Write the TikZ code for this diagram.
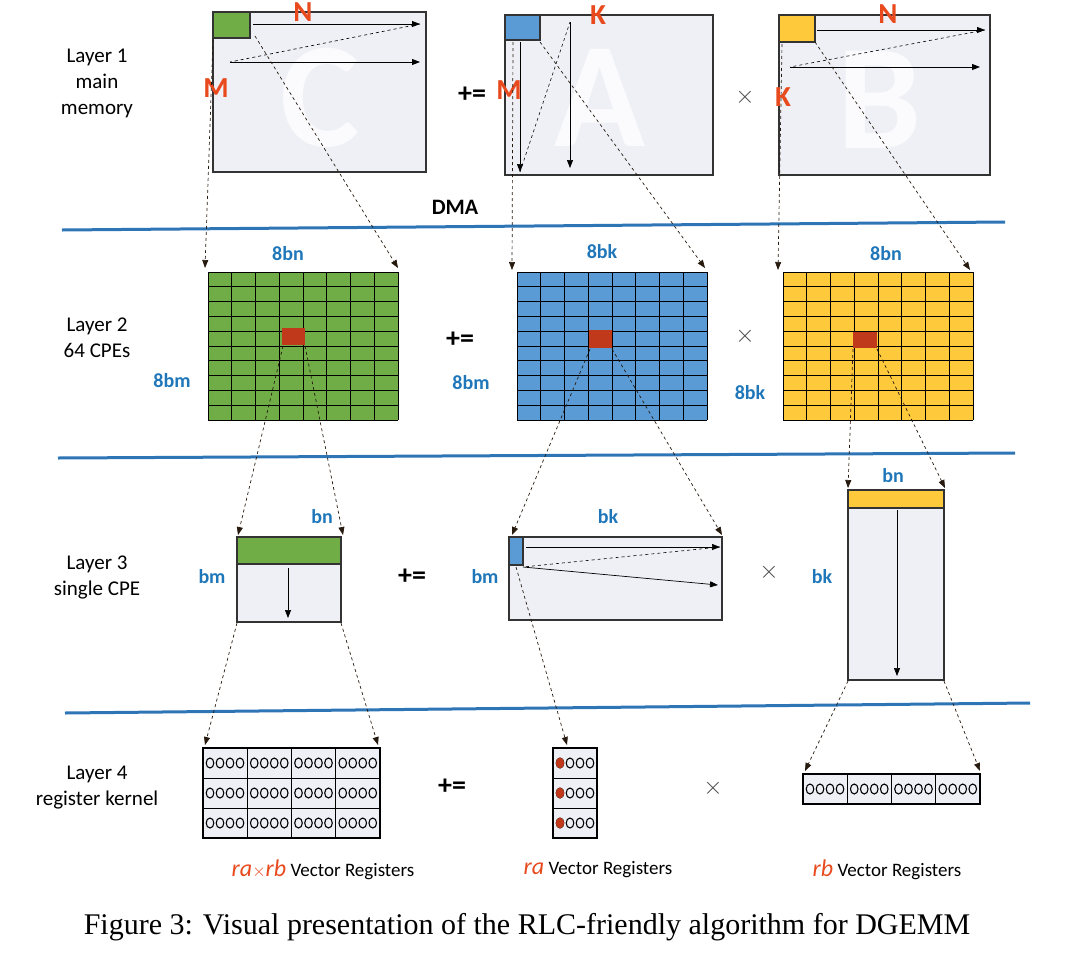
\documentclass[tikz,border=0pt]{standalone}
\usepackage{fontspec}
\setmainfont{Carlito}
\newfontfamily\capfont{Liberation Serif}
\usetikzlibrary{arrows.meta}
\definecolor{mred}{HTML}{E8491D}
\definecolor{mblue}{HTML}{2E75B6}
\definecolor{lblue}{HTML}{1F77BA}
\definecolor{gfill}{HTML}{70AD47}
\definecolor{bfill}{HTML}{5B9BD5}
\definecolor{yfill}{HTML}{FFC93C}
\definecolor{bg}{HTML}{EEF0F6}
\definecolor{rblk}{HTML}{C0391B}
\definecolor{bigc}{HTML}{FBFBFD}
\begin{document}
\begin{tikzpicture}[x=1pt,y=-1pt,
  mat/.style={draw=black!80,line width=1.2pt,fill=bg},
  lay/.style={align=center,font=\fontsize{21}{26}\selectfont},
  dim/.style={text=mred,font=\bfseries\fontsize{29}{29}\selectfont},
  sdim/.style={text=lblue,font=\bfseries\fontsize{20}{20}\selectfont},
  op/.style={font=\bfseries\fontsize{28}{28}\selectfont},
  tm/.style={text=black!70,font=\fontsize{24}{24}\selectfont},
  big/.style={text=bigc,font=\bfseries\fontsize{150}{150}\selectfont},
  arr/.style={-{Triangle[length=8pt,width=6pt]},line width=0.9pt},
  dsh/.style={dashed,line width=0.6pt},
  darr/.style={dashed,line width=0.7pt,draw=black!80!brown,-{Triangle[length=8pt,width=6pt]}},
  sep/.style={draw=mblue,line width=3pt}]
\useasboundingbox (0,0) rectangle (1071,956);
% layer labels
\node[lay] (l1) at (97,83) {Layer 1\\main\\memory};
\node[lay] (l2) at (97,338) {Layer 2\\64 CPEs};
\node[lay] (l3) at (97,577) {Layer 3\\single CPE};
\node[lay] (l4) at (97,788) {Layer 4\\register kernel};
% separators
\draw[sep] (62,230) -- (1005,222);
\draw[sep] (58,458) -- (1015,453);
\draw[sep] (65,713) -- (1030,703);
\node[font=\bfseries\fontsize{22}{22}\selectfont] (dma) at (455,207) {DMA};
% ---------- Layer 1
\draw[mat] (213,12) rectangle (426,172);
\draw[mat] (505,15) rectangle (713,175);
\draw[mat] (779,15) rectangle (990,175);
\node[big] (bc) at (320,98) {C};
\node[big] (ba) at (600,98) {A};
\node[big] (bb) at (880,100) {B};
\draw[fill=gfill,draw=black!80,line width=1.2pt] (213,12) rectangle (250,38);
\draw[fill=bfill,draw=black!80,line width=1.2pt] (505,15) rectangle (540,40);
\draw[fill=yfill,draw=black!80,line width=1.2pt] (779,15) rectangle (815,42);
\coordinate (c1a) at (253,24); \coordinate (c1b) at (420,24);
\coordinate (c1c) at (230,62); \coordinate (c1d) at (420,62);
\draw[arr] (c1a) -- (c1b); \draw[dsh] (c1b) -- (c1c); \draw[arr] (c1c) -- (c1d);
\coordinate (a1a) at (520,42); \coordinate (a1b) at (520,172);
\coordinate (a1c) at (570,22); \coordinate (a1d) at (570,168);
\draw[arr,line width=0.7pt] (a1a) -- (a1b); \draw[dsh] (a1b) -- (a1c); \draw[arr,line width=0.7pt] (a1c) -- (a1d);
\coordinate (b1a) at (817,30); \coordinate (b1b) at (985,30);
\coordinate (b1c) at (790,67); \coordinate (b1d) at (980,67);
\draw[arr] (b1a) -- (b1b); \draw[dsh] (b1b) -- (b1c); \draw[arr] (b1c) -- (b1d);
\node[dim] at (303,12) {N};
\node[dim] at (216,88) {M};
\node[dim] at (598,15) {K};
\node[dim] at (509,90) {M};
\node[dim] at (888,14) {N};
\node[dim] at (783,97) {K};
\node[op] (pe1) at (472,95) {+=};
\node[tm] (x1) at (745,97) {$\times$};
% ---------- Layer 2
\foreach \x/\c in {208/gfill,517/bfill,783/yfill}{
  \fill[\c] (\x,272) rectangle ++(190,148);
  \foreach \i in {0,...,8} \draw[line width=0.8pt] (\x+\i*190/8,272) -- ++(0,148);
  \foreach \j in {0,...,10} \draw[line width=0.8pt] (\x,272+\j*14.8) -- ++(190,0);
}
\fill[rblk] (282,328) rectangle (305,345);
\fill[rblk] (589,330) rectangle (612,348);
\fill[rblk] (853,332) rectangle (877,348);
\node[sdim] at (288,254) {8bn};
\node[sdim] at (602,252) {8bk};
\node[sdim] at (886,254) {8bn};
\node[sdim] at (172,381) {8bm};
\node[sdim] at (471,383) {8bm};
\node[sdim] at (750,393) {8bk};
\node[op] (pe2) at (460,340) {+=};
\node[tm] (x2) at (745,336) {$\times$};
% DMA arrows
\draw[darr] (213,40) -- (205,268);
\draw[darr] (255,36) -- (398,268);
\draw[darr] (513,42) -- (512,270);
\draw[darr] (540,42) -- (705,268);
\draw[darr] (782,44) -- (778,270);
\draw[darr] (815,42) -- (970,270);
% ---------- Layer 3
\draw[mat] (237,537) rectangle (341,622);
\draw[fill=gfill,draw=black!80,line width=1.2pt] (237,537) rectangle (341,564);
\draw[arr,line width=0.7pt] (288,568) -- (288,618);
\draw[mat] (509,537) rectangle (722,620);
\draw[fill=bfill,draw=black!80,line width=1.2pt] (509,537) rectangle (523,565);
\coordinate (a3a) at (526,547); \coordinate (a3b) at (720,547);
\coordinate (a3c) at (523,567); \coordinate (a3d) at (718,585);
\draw[arr,line width=0.7pt] (a3a) -- (a3b); \draw[dsh] (a3b) -- (a3c); \draw[arr,line width=0.7pt] (a3c) -- (a3d);
\draw[mat] (848,490) rectangle (944,680);
\draw[fill=yfill,draw=black!80,line width=1.2pt] (848,490) rectangle (944,508);
\draw[arr,line width=0.7pt] (897,510) -- (897,676);
\node[sdim] at (322,517) {bn};
\node[sdim] at (212,577) {bm};
\node[sdim] at (608,517) {bk};
\node[sdim] at (485,577) {bm};
\node[sdim] at (893,476) {bn};
\node[sdim] at (822,577) {bk};
\node[op] (pe3) at (412,577) {+=};
\node[tm] (x3) at (769,572) {$\times$};
\draw[darr] (283,346) -- (238,535);
\draw[darr] (305,346) -- (343,535);
\draw[darr] (590,349) -- (512,535);
\draw[darr] (612,349) -- (722,535);
\draw[darr] (853,349) -- (848,488);
\draw[darr] (877,349) -- (945,488);
% ---------- Layer 4
\newcommand{\regcell}[3]{% x y firstred
  \draw[fill=bg,line width=0.8pt] (#1,#2) rectangle ++(44,30);
  \foreach \k in {0,...,3} \draw[line width=1.1pt,fill=bg] (#1+7+\k*10,#2+15) ellipse (3.8pt and 5pt);
  \ifnum#3=1 \fill[rblk] (#1+7,#2+15) ellipse (4.2pt and 5.4pt);\fi}
\foreach \i in {0,...,3} \foreach \j in {0,...,2} {\regcell{203+\i*44.25}{748+\j*30}{0}}
\foreach \j in {0,...,2} {\regcell{553}{748+\j*30}{1}}
\foreach \i in {0,...,3} {\regcell{803+\i*44.25}{774}{0}}
\draw[line width=1.2pt] (203,748) rectangle (380,838);
\draw[line width=1.2pt] (553,748) rectangle (597,838);
\draw[line width=1.2pt] (803,774) rectangle (980,804);
\node[op] (pe4) at (452,787) {+=};
\node[tm] (x4) at (713,788) {$\times$};
\draw[darr] (237,623) -- (205,745);
\draw[darr] (341,623) -- (378,745);
\draw[darr] (516,567) -- (567,745);
\draw[darr] (848,681) -- (805,771);
\draw[darr] (944,681) -- (980,771);
\node[font=\fontsize{19}{19}\selectfont] at (323,870) {\textcolor{mred}{\fontsize{24}{24}\selectfont\itshape ra}{\color{mred}$\times$}\textcolor{mred}{\fontsize{24}{24}\selectfont\itshape rb} Vector Registers};
\node[font=\fontsize{19}{19}\selectfont] at (598,870) {\textcolor{mred}{\fontsize{24}{24}\selectfont\itshape ra} Vector Registers};
\node[font=\fontsize{19}{19}\selectfont] at (887,870) {\textcolor{mred}{\fontsize{24}{24}\selectfont\itshape rb} Vector Registers};
\node[font=\capfont\fontsize{30}{30}\selectfont] (cap) at (527,927) {Figure 3: Visual presentation of the RLC-friendly algorithm for DGEMM};
\end{tikzpicture}
\end{document}
